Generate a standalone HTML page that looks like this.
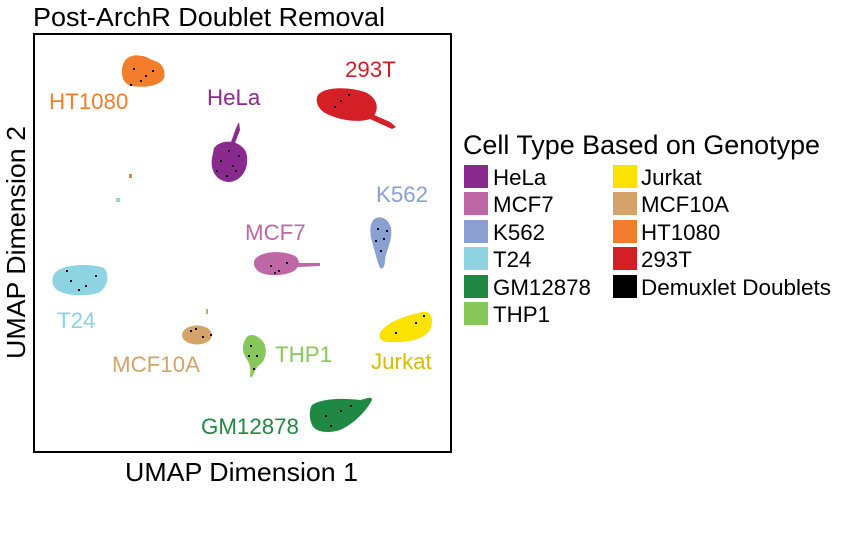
<!DOCTYPE html>
<html><head><meta charset="utf-8"><style>
html,body{margin:0;padding:0;background:#fff;}
svg{display:block;font-family:"Liberation Sans",Arial,sans-serif;}
</style></head><body>
<svg width="849" height="549" viewBox="0 0 849 549" xmlns="http://www.w3.org/2000/svg">
<text x="33" y="26" font-size="25.5" fill="#000" textLength="352" lengthAdjust="spacingAndGlyphs">Post-ArchR Doublet Removal</text>
<rect x="34" y="34" width="417" height="418" fill="none" stroke="#000" stroke-width="2"/>
<text x="125" y="481" font-size="26" textLength="233" lengthAdjust="spacingAndGlyphs">UMAP Dimension 1</text>
<text transform="translate(25,359) rotate(-90)" font-size="26" textLength="233" lengthAdjust="spacingAndGlyphs">UMAP Dimension 2</text>

<!-- HT1080 -->
<path d="M124,62 C130,52 145,55 152,60 C162,62 166,70 164,78 C160,86 145,88 132,86 C121,84 120,70 124,62Z" fill="#F47D2B"/>
<!-- HeLa -->
<path d="M214,148 C222,138 240,140 246,152 C250,165 244,180 230,182 C216,182 210,170 212,158Z" fill="#8A2A8F"/>
<path d="M231,142 L236,128 L239,122 L240,130 L235,143Z" fill="#8A2A8F"/>
<!-- 293T -->
<path d="M318,95 C325,86 350,87 365,92 C378,98 380,110 372,118 C360,124 338,120 325,113 C317,108 315,100 318,95Z" fill="#D41F26"/>
<path d="M372,114 L390,122 L396,127 L392,129 L370,119Z" fill="#D41F26"/>
<rect x="129" y="174" width="3" height="4" fill="#F47D2B"/>
<rect x="116" y="198" width="4" height="4" fill="#8DD3E2"/>
<!-- K562 -->
<path d="M372,222 C376,214 388,216 391,228 C393,240 386,250 385,260 C385,266 383,270 380,268 C376,258 374,248 371,238 C370,232 370,226 372,222Z" fill="#8AA0D0"/>
<!-- MCF7 -->
<path d="M256,258 C265,250 285,251 295,256 C301,260 300,268 292,272 C280,277 262,276 257,270 C253,266 253,261 256,258Z" fill="#BF67A6"/>
<path d="M298,263 L320,263 L320,266 L298,267Z" fill="#BF67A6"/>
<!-- T24 -->
<path d="M55,273 C62,264 90,263 104,268 C110,274 108,288 98,293 C84,297 62,296 55,288 C51,283 52,277 55,273Z" fill="#8DD3E2"/>
<!-- MCF10A -->
<ellipse cx="197" cy="335" rx="15" ry="9.5" fill="#D4A36A"/>
<rect x="206" y="309" width="2" height="5" fill="#D4A36A"/>
<!-- THP1 -->
<path d="M245,340 C248,332 258,334 264,343 C268,352 265,362 258,366 C255,370 253,376 251,378 L250,375 C251,368 250,364 246,358 C242,352 242,345 245,340Z" fill="#88C75A"/>
<!-- Jurkat -->
<path d="M380,333 C386,322 405,316 422,312 C432,310 434,320 430,330 C424,340 405,343 390,342 C381,342 378,338 380,333Z" fill="#FCE200"/>
<!-- GM12878 -->
<path d="M312,405 C322,398 345,398 360,400 C368,398 372,396 372,400 C366,412 352,425 340,430 C328,434 315,432 312,425 C309,418 309,410 312,405Z" fill="#1F8943"/>

<g fill="#000">
<rect x="133" y="68" width="2" height="2"/><rect x="145" y="75" width="2" height="2"/><rect x="130" y="84" width="2" height="2"/><rect x="152" y="70" width="2" height="2"/><rect x="140" y="80" width="2" height="2"/>
<rect x="220" y="160" width="2" height="2"/><rect x="232" y="165" width="2" height="2"/><rect x="226" y="175" width="2" height="2"/><rect x="238" y="155" width="2" height="2"/><rect x="216" y="170" width="2" height="2"/><rect x="228" y="150" width="2" height="2"/><rect x="235" y="170" width="2" height="2"/>
<rect x="340" y="100" width="2" height="2"/><rect x="348" y="94" width="2" height="2"/><rect x="334" y="106" width="2" height="2"/>
<rect x="377" y="228" width="2" height="2"/><rect x="383" y="238" width="2" height="2"/><rect x="380" y="250" width="2" height="2"/><rect x="386" y="230" width="2" height="2"/><rect x="375" y="240" width="2" height="2"/>
<rect x="270" y="265" width="2" height="2"/><rect x="278" y="270" width="2" height="2"/><rect x="286" y="262" width="2" height="2"/><rect x="274" y="272" width="2" height="2"/>
<rect x="70" y="280" width="2" height="2"/><rect x="85" y="285" width="2" height="2"/><rect x="95" y="275" width="2" height="2"/><rect x="66" y="270" width="2" height="2"/><rect x="78" y="289" width="2" height="2"/>
<rect x="190" y="330" width="2" height="2"/><rect x="202" y="336" width="2" height="2"/><rect x="210" y="334" width="2" height="2"/><rect x="195" y="328" width="2" height="2"/>
<rect x="250" y="345" width="2" height="2"/><rect x="256" y="355" width="2" height="2"/><rect x="253" y="368" width="2" height="2"/><rect x="248" y="355" width="2" height="2"/>
<rect x="395" y="332" width="2" height="2"/><rect x="415" y="322" width="2" height="2"/><rect x="423" y="315" width="2" height="2"/>
<rect x="325" y="415" width="2" height="2"/><rect x="340" y="410" width="2" height="2"/><rect x="350" y="405" width="2" height="2"/><rect x="330" y="425" width="2" height="2"/>
</g>

<g font-size="22.3">
<text x="49" y="109" fill="#F47D2B">HT1080</text>
<text x="207" y="105" fill="#8A2A8F">HeLa</text>
<text x="345" y="77" fill="#D41F26">293T</text>
<text x="376" y="202" fill="#8AA0D0">K562</text>
<text x="245" y="240" fill="#BF67A6">MCF7</text>
<text x="57" y="328" fill="#8DD3E2">T24</text>
<text x="112" y="372" fill="#D4A36A">MCF10A</text>
<text x="275" y="362" fill="#88C75A">THP1</text>
<text x="371" y="369" fill="#D9BC00">Jurkat</text>
<text x="201" y="434" fill="#1F8943">GM12878</text>
</g>

<text x="463" y="154" font-size="26.5" textLength="357" lengthAdjust="spacingAndGlyphs">Cell Type Based on Genotype</text>
<g font-size="22.3">
<rect x="464" y="165" width="24" height="23" fill="#8A2A8F"/><text x="493" y="185">HeLa</text>
<rect x="464" y="192" width="24" height="23" fill="#BF67A6"/><text x="493" y="212">MCF7</text>
<rect x="464" y="220" width="24" height="23" fill="#8AA0D0"/><text x="493" y="240">K562</text>
<rect x="464" y="247" width="24" height="23" fill="#8DD3E2"/><text x="493" y="267">T24</text>
<rect x="464" y="275" width="24" height="23" fill="#1F8943"/><text x="493" y="295">GM12878</text>
<rect x="464" y="302" width="24" height="23" fill="#88C75A"/><text x="493" y="322">THP1</text>
<rect x="613" y="165" width="24" height="23" fill="#FCE200"/><text x="641" y="185">Jurkat</text>
<rect x="613" y="192" width="24" height="23" fill="#D4A36A"/><text x="641" y="212">MCF10A</text>
<rect x="613" y="220" width="24" height="23" fill="#F47D2B"/><text x="641" y="240">HT1080</text>
<rect x="613" y="247" width="24" height="23" fill="#D41F26"/><text x="641" y="267">293T</text>
<rect x="613" y="275" width="24" height="23" fill="#000"/><text x="641" y="295" textLength="190" lengthAdjust="spacingAndGlyphs">Demuxlet Doublets</text>
</g>
</svg>
</body></html>
